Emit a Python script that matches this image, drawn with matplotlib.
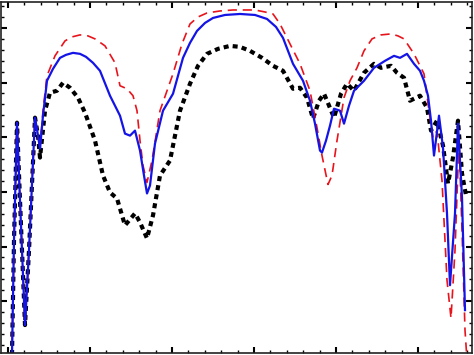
# plot.py, three-curve overlay (solid / dashed / dotted), frame-only axes
# outputs: out.png

import numpy as np
import matplotlib
matplotlib.use("Agg")
import matplotlib.pyplot as plt
from matplotlib.ticker import MultipleLocator

# ── data ──────────────────────────────────────────────────────────────────────
x_solid = [12, 14, 17, 20, 25, 29, 35, 38, 40, 43,
           47, 53, 60, 66, 73, 80, 86, 93, 100, 110, 120, 125,
           130, 135, 140, 144, 147, 150, 155, 163, 173, 183,
           190, 197, 205, 213, 225, 240, 255, 267, 276, 283, 293, 303, 310, 315, 320,
           322, 326, 330, 334, 340, 344, 349, 354, 364, 374,
           385, 394, 400, 407, 414, 420, 424, 428, 431, 434,
           439, 443, 447, 450, 455, 458, 462, 465]
y_solid = [0, 115, 233, 155, 30, 105, 238, 220, 207, 240,
           275, 287, 298, 301, 303, 302, 299, 293, 285, 260, 240, 222,
           220, 225, 205, 180, 162, 170, 212, 245, 262, 298,
           313, 325, 333, 338, 341, 342, 341, 337, 329, 318, 292, 275, 255, 232, 205,
           203, 215, 230, 247, 245, 232, 250, 265, 275, 288,
           295, 300, 298, 302, 292, 285, 275, 260, 235, 200,
           240, 208, 142, 70, 142, 232, 158, 45]

x_dashed = [12, 14, 17, 20, 25, 29, 35, 38, 40, 43,
            47, 55, 65, 72, 80, 88, 95, 105, 115, 120, 127, 133,
            137, 140, 143, 147, 152, 160, 173, 182, 190, 198, 207, 220, 233,
            245, 255, 265, 273, 280, 287, 300, 310, 317, 322, 328, 332, 337,
            344, 350, 357, 364, 372, 381, 391, 398, 404, 414, 424, 429,
            433, 437, 442, 447, 451, 455, 459, 462, 465, 467]
y_dashed = [0, 115, 233, 155, 30, 105, 238, 220, 207, 245,
            280, 300, 315, 319, 321, 320, 317, 310, 293, 270, 267, 260,
            245, 215, 190, 173, 195, 245, 282, 312, 332, 339, 343, 345, 346,
            346, 346, 344, 342, 332, 318, 292, 265, 228, 200, 171, 180, 215,
            258, 275, 288, 305, 317, 321, 322, 320, 317, 302, 282, 245,
            218, 225, 175, 75, 37, 105, 215, 125, 25, -5]

x_dotted = [12, 14, 17, 20, 25, 29, 35, 38, 40, 45,
            50, 57, 63, 70, 78, 85, 95, 103, 110, 117,
            125, 135, 140, 147, 153, 160, 170, 180, 190, 198, 207,
            218, 230, 240, 250, 262, 273, 283, 293, 300, 307, 313, 319, 324,
            327, 334, 341, 347, 354, 364, 374, 381, 391, 397,
            404, 410, 420, 427, 431, 437, 443, 448, 453, 458,
            462, 466]
y_dotted = [0, 115, 233, 155, 30, 105, 238, 220, 198, 245,
            263, 265, 273, 268, 258, 243, 215, 180, 163, 157,
            130, 142, 133, 117, 140, 180, 195, 245, 272, 290, 302,
            307, 310, 309, 305, 298, 290, 285, 267, 268, 258, 237, 255, 262,
            255, 238, 262, 272, 265, 283, 292, 288, 290, 283,
            278, 255, 260, 248, 225, 235, 210, 172, 198, 235,
            182, 160]

# ── figure ────────────────────────────────────────────────────────────────────
fig = plt.figure(figsize=(4.74, 3.55), dpi=100, facecolor="white")
ax = fig.add_axes([1 / 474, 2 / 355, 471 / 474, 351 / 355])

ax.plot(x_dotted, y_dotted, color="black", linewidth=3.0,
        linestyle=(0, (1.2, 1.0)), solid_capstyle="butt")
ax.plot(x_dashed, y_dashed, color="#e8141c", linewidth=1.2,
        linestyle=(0, (5.5, 3.5)))
ax.plot(x_solid, y_solid, color="#1414e6", linewidth=1.6)

ax.set_xlim(1, 472)
ax.set_ylim(2, 354)

# ticks: inward on every side, no labels
ax.xaxis.set_major_locator(MultipleLocator(82, offset=8))
ax.xaxis.set_minor_locator(MultipleLocator(16.4, offset=8))
ax.yaxis.set_major_locator(MultipleLocator(54.8, offset=54))
ax.yaxis.set_minor_locator(MultipleLocator(10.96, offset=54))
ax.tick_params(which="both", direction="in", top=True, right=True,
               labelbottom=False, labelleft=False, colors="black")
ax.tick_params(which="major", length=4, width=1.5)
ax.tick_params(which="minor", length=2.5, width=1.0)
for spine in ax.spines.values():
    spine.set_linewidth(1.2)
    spine.set_color("#222222")

plt.savefig("out.png", dpi=100)
plt.close()
